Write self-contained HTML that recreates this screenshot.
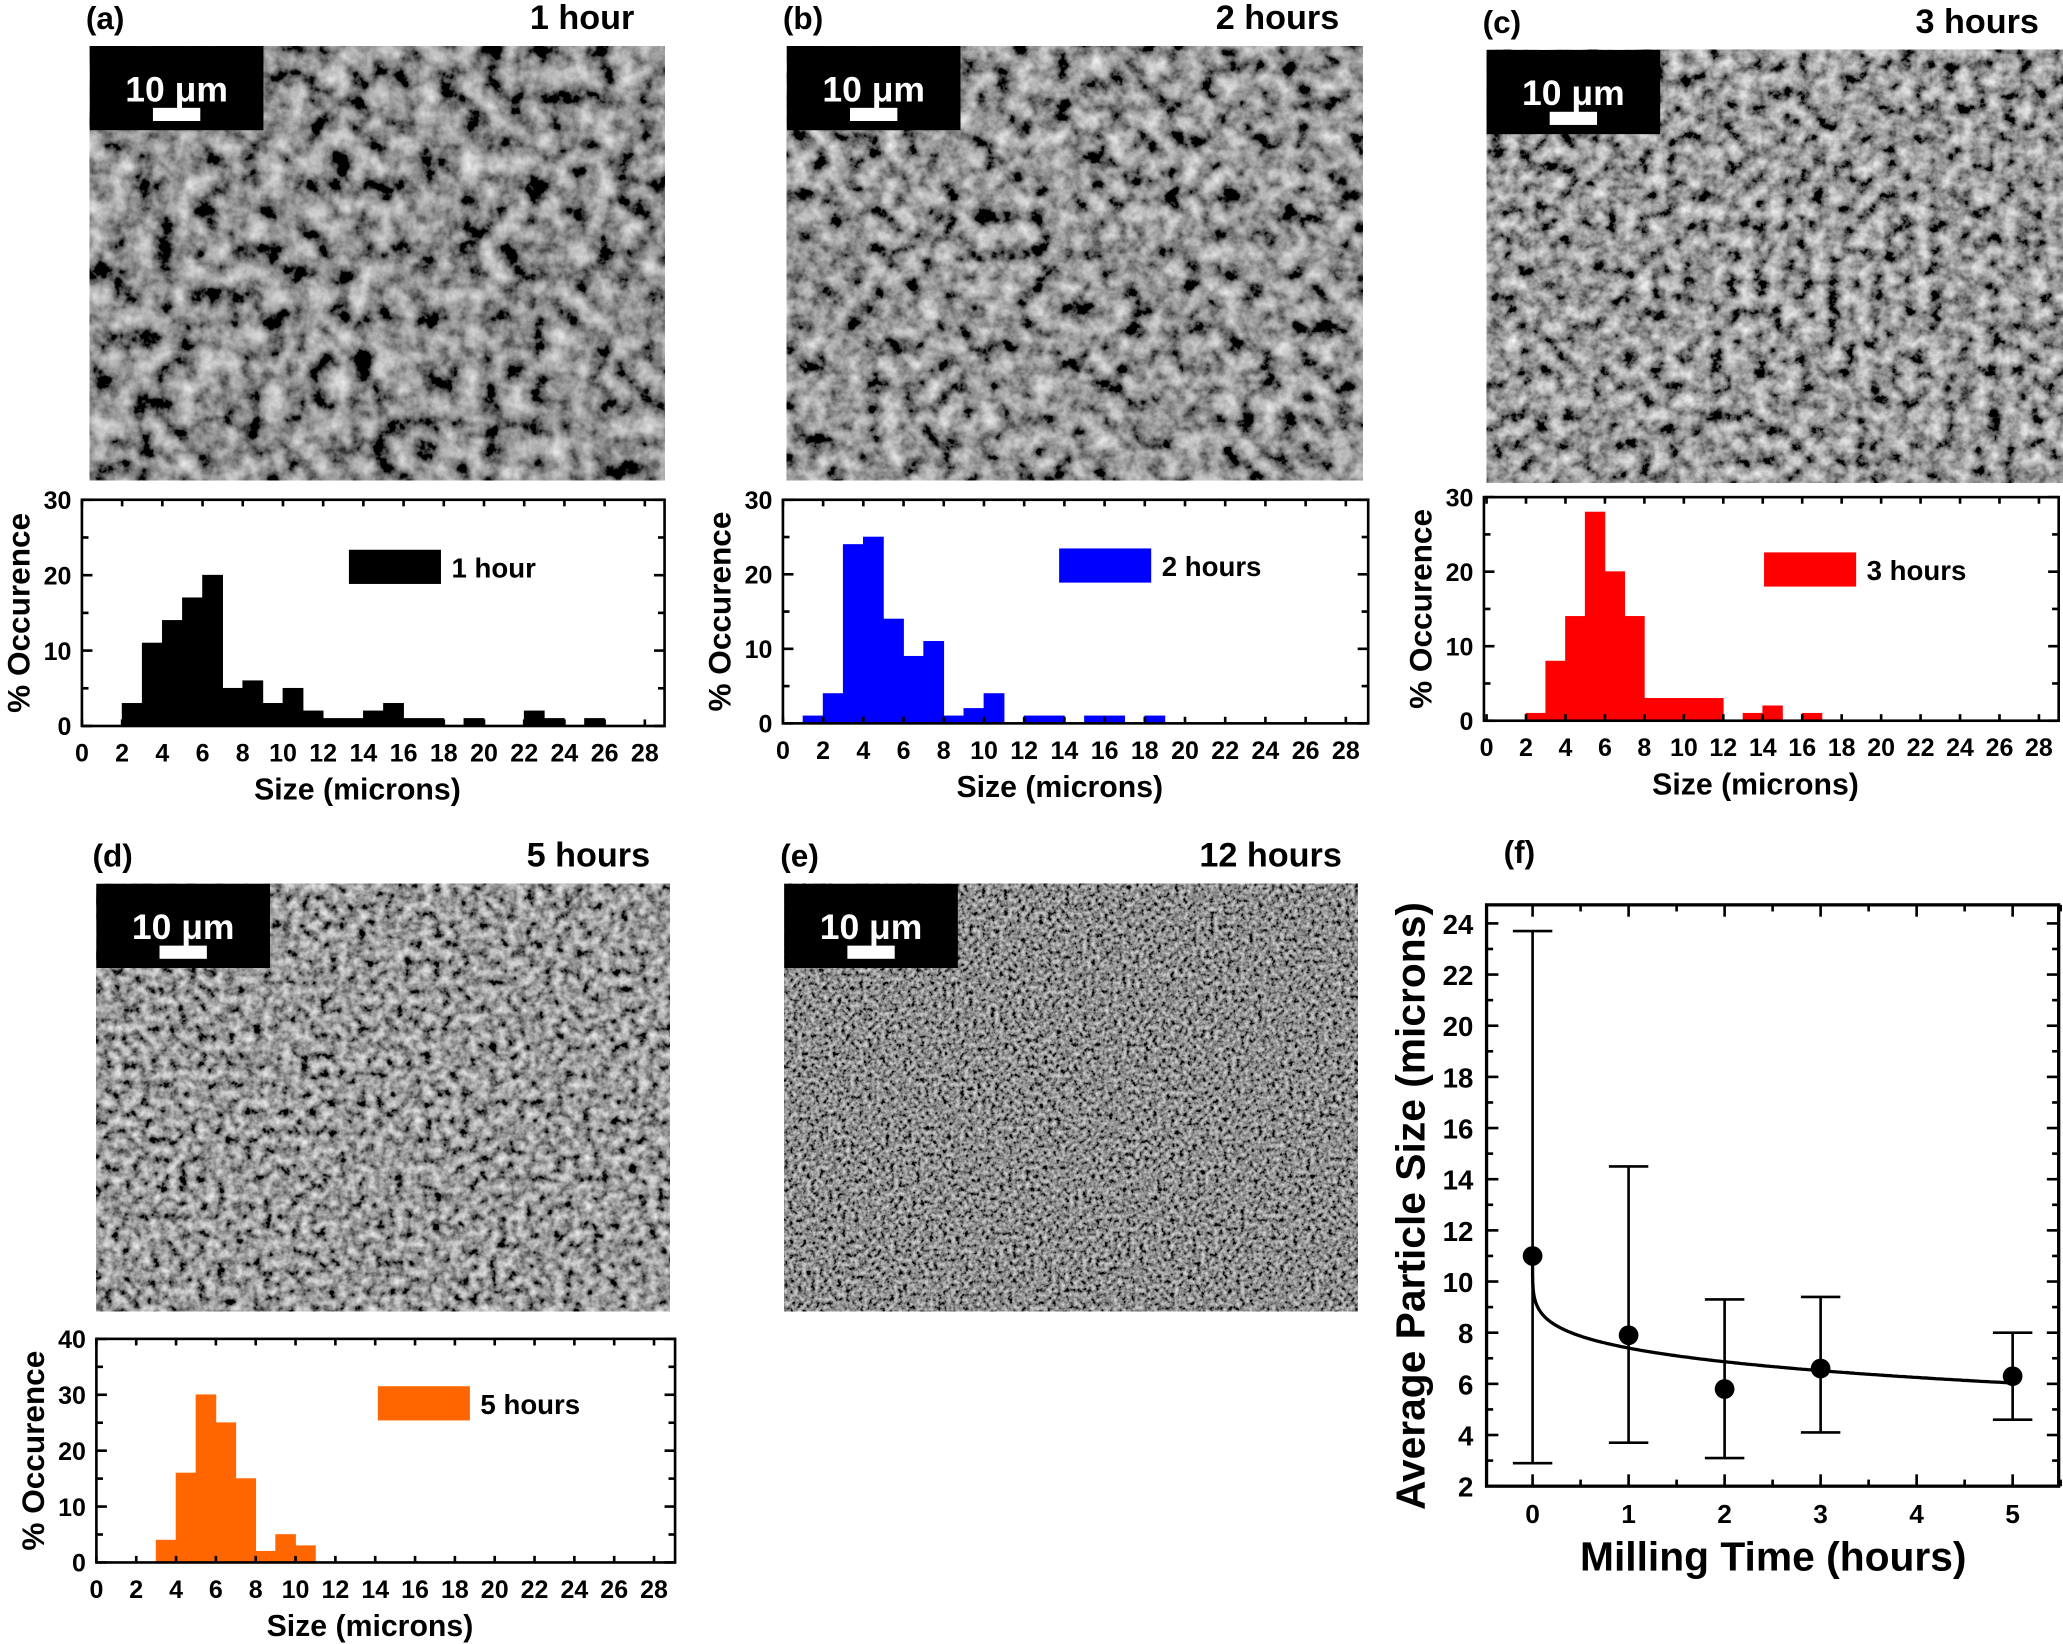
<!DOCTYPE html>
<html><head><meta charset="utf-8"><style>
html,body{margin:0;padding:0;background:#fff;}
svg{display:block;}
text{font-family:"Liberation Sans",sans-serif;font-weight:bold;fill:#000;}
</style></head><body>
<svg id="s" width="2063" height="1644" viewBox="0 0 1568 1250" xmlns="http://www.w3.org/2000/svg">
<defs>
<filter id="semA" x="0" y="0" width="100%" height="100%"><feTurbulence type="fractalNoise" baseFrequency="0.06" numOctaves="4" seed="3"/><feColorMatrix type="matrix" values="1.3 0 0 0 -0.38  1.3 0 0 0 -0.38  1.3 0 0 0 -0.38  0 0 0 0 1"/></filter>
<filter id="semB" x="0" y="0" width="100%" height="100%"><feTurbulence type="fractalNoise" baseFrequency="0.07" numOctaves="4" seed="7"/><feColorMatrix type="matrix" values="1.35 0 0 0 -0.38  1.35 0 0 0 -0.38  1.35 0 0 0 -0.38  0 0 0 0 1"/></filter>
<filter id="semC" x="0" y="0" width="100%" height="100%"><feTurbulence type="fractalNoise" baseFrequency="0.09" numOctaves="4" seed="11"/><feColorMatrix type="matrix" values="1.35 0 0 0 -0.36  1.35 0 0 0 -0.36  1.35 0 0 0 -0.36  0 0 0 0 1"/></filter>
<filter id="semD" x="0" y="0" width="100%" height="100%"><feTurbulence type="fractalNoise" baseFrequency="0.14" numOctaves="3" seed="5"/><feColorMatrix type="matrix" values="1.3 0 0 0 -0.33  1.3 0 0 0 -0.33  1.3 0 0 0 -0.33  0 0 0 0 1"/></filter>
<filter id="semE" x="0" y="0" width="100%" height="100%"><feTurbulence type="fractalNoise" baseFrequency="0.3" numOctaves="3" seed="9"/><feColorMatrix type="matrix" values="1.2 0 0 0 -0.33  1.2 0 0 0 -0.33  1.2 0 0 0 -0.33  0 0 0 0 1"/></filter>
</defs>
</svg>
<script>
const s=document.getElementById('s');let h='';
function T(x,y,t,sz,anc,extra){h+=`<text x="${x}" y="${y}" font-size="${sz}" text-anchor="${anc||'start'}" ${extra||''}>${t}</text>`;}
function sem(x,y,w,hh,f,lab,title,tx){
 h+=`<rect x="${x}" y="${y}" width="${w}" height="${hh}" fill="#555" filter="url(#${f})"/>`;
 h+=`<rect x="${x}" y="${y}" width="132" height="64" fill="#000"/>`;
 T(x+66,y+42,'10 μm',27,'middle','style="fill:#fff"');
 h+=`<rect x="${x+48}" y="${y+47}" width="36" height="10" fill="#fff"/>`;
 T(x-3,y-13,lab,24);T(tx,y-13,title,26,'end');
}
function hist(L,R,Tp,B,x0,x28,ymax,bars,col,leg,lx,ly){
 const px=(x28-x0)/28, py=(B-Tp)/ymax;
 bars.forEach(([a,v])=>{h+=`<rect x="${x0+a*px}" y="${B-v*py}" width="${px}" height="${v*py}" fill="${col}" stroke="${col}" stroke-width="0.5"/>`;});
 h+=`<rect x="${L}" y="${Tp}" width="${R-L}" height="${B-Tp}" fill="none" stroke="#000" stroke-width="2"/>`;
 for(let i=0;i<=28;i+=2){const x=x0+i*px;h+=`<line x1="${x}" y1="${B}" x2="${x}" y2="${B-5}" stroke="#000" stroke-width="2"/><line x1="${x}" y1="${Tp}" x2="${x}" y2="${Tp+5}" stroke="#000" stroke-width="2"/>`;T(x,B+27,i,19,'middle');}
 for(let v=0;v<=ymax;v+=5){const y=B-v*py;const len=v%10==0?8:5;h+=`<line x1="${L}" y1="${y}" x2="${L+len}" y2="${y}" stroke="#000" stroke-width="2"/><line x1="${R}" y1="${y}" x2="${R-len}" y2="${y}" stroke="#000" stroke-width="2"/>`;if(v%10==0)T(L-8,y+7,v,19,'end');}
 h+=`<rect x="${lx}" y="${ly}" width="70" height="26" fill="${col}"/>`;T(lx+78,ly+21,leg,21);
 T((L+R)/2-12,B+56,'Size (microns)',23,'middle');
 T(0,0,'% Occurence',24,'middle',`transform="translate(${L-40},${(Tp+B)/2}) rotate(-90)"`);
}
sem(68,35,437,330,'semA','(a)','1 hour',482);
sem(598,35,438,330,'semB','(b)','2 hours',1018);
sem(1130,38,438,329,'semC','(c)','3 hours',1550);
sem(73,672,436,325,'semD','(d)','5 hours',494);
sem(596,672,436,325,'semE','(e)','12 hours',1020);
const a=[[2,3],[3,11],[4,14],[5,17],[6,20],[7,5],[8,6],[9,3],[10,5],[11,2],[12,1],[13,1],[14,2],[15,3],[16,1],[17,1],[19,1],[22,2],[23,1],[25,1]];
hist(62,505,380,552,62,490,30,a,'#000','1 hour',265,418);
const b=[[1,1],[2,4],[3,24],[4,25],[5,14],[6,9],[7,11],[8,1],[9,2],[10,4],[12,1],[13,1],[15,1],[16,1],[18,1]];
hist(595,1040,380,550,595,1023,30,b,'#0000ff','2 hours',805,417);
const c=[[2,1],[3,8],[4,14],[5,28],[6,20],[7,14],[8,3],[9,3],[10,3],[11,3],[13,1],[14,2],[16,1]];
hist(1128,1565,378,548,1130,1550,30,c,'#ff0000','3 hours',1341,420);
const d=[[3,4],[4,16],[5,30],[6,25],[7,15],[8,2],[9,5],[10,3]];
hist(73,513,1018,1188,73,497,40,d,'#ff6600','5 hours',287,1054);
// panel f
T(1143,656,'(f)',24);
const L=1130,R=1565,Tp=688,B=1130,x0=1165,xs=73,y2=1130,ys=19.45;
const X=t=>x0+t*xs,Y=v=>y2-(v-2)*ys;
h+=`<rect x="${L}" y="${Tp}" width="${R-L}" height="${B-Tp}" fill="none" stroke="#000" stroke-width="2.5"/>`;
for(let t=0;t<=5.5;t+=0.5){const x=X(t),len=(t%1==0)?9:5;h+=`<line x1="${x}" y1="${B}" x2="${x}" y2="${B-len}" stroke="#000" stroke-width="2"/><line x1="${x}" y1="${Tp}" x2="${x}" y2="${Tp+len}" stroke="#000" stroke-width="2"/>`;if(t%1==0&&t<=5)T(x,B+28,t,20,'middle');}
for(let v=2;v<=24;v+=1){const y=Y(v),len=v%2==0?9:5;h+=`<line x1="${L}" y1="${y}" x2="${L+len}" y2="${y}" stroke="#000" stroke-width="2"/><line x1="${R}" y1="${y}" x2="${R-len}" y2="${y}" stroke="#000" stroke-width="2"/>`;if(v%2==0)T(L-10,y+8,v,21,'end');}
const pts=[[0,11,2.9,23.7],[1,7.9,3.7,14.5],[2,5.8,3.1,9.3],[3,6.6,4.1,9.4],[5,6.3,4.6,8.0]];
pts.forEach(([t,v,lo,hi])=>{const x=X(t);h+=`<line x1="${x}" y1="${Y(lo)}" x2="${x}" y2="${Y(hi)}" stroke="#000" stroke-width="2"/><line x1="${x-15}" y1="${Y(lo)}" x2="${x+15}" y2="${Y(lo)}" stroke="#000" stroke-width="2"/><line x1="${x-15}" y1="${Y(hi)}" x2="${x+15}" y2="${Y(hi)}" stroke="#000" stroke-width="2"/>`;});
let p='';for(let i=0;i<=300;i++){const t=5*Math.pow(i/300,2);const v=t==0?10.6:11-3.6*Math.pow(t,0.2);p+=(i?'L':'M')+X(t).toFixed(1)+','+Y(Math.min(v,10.6)).toFixed(1);}
h+=`<path d="${p}" fill="none" stroke="#000" stroke-width="2.5"/>`;
pts.forEach(([t,v])=>{h+=`<circle cx="${X(t)}" cy="${Y(v)}" r="7.5" fill="#000"/>`;});
T(1348,1194,'Milling Time (hours)',31,'middle');
T(0,0,'Average Particle Size (microns)',31,'middle',`transform="translate(1083,${(Tp+B)/2+8}) rotate(-90)"`);
s.insertAdjacentHTML('beforeend',h);
</script>
</body></html>
